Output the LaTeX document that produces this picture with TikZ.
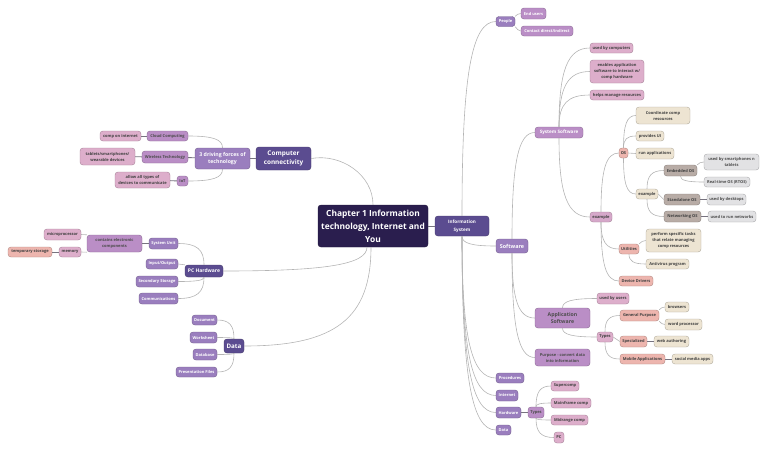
\documentclass[tikz,border=0pt]{standalone}
\usepackage{fontspec}
\usetikzlibrary{calc}
\setmainfont{Open Sans}
\tikzset{
	box/.style={draw=#1!75!black, fill=#1, rounded corners=3pt, line width=.4pt, inner sep=0pt, align=center, font=\fontsize{4}{6}\selectfont\bfseries},
	root/.style={box=rootc, text=white, font=\fontsize{8.4}{13}\selectfont\bfseries},
	main/.style={box=mainc, text=white},
	topic/.style={box=topicc, text=white},
	sub/.style={box=subc, text=white},
	mauve/.style={box=mauvec, text=black!70},
	pink/.style={box=pinkc, text=black!75},
	salmon/.style={box=salmonc, text=black!75},
	cream/.style={box=creamc, text=black!75},
	taupe/.style={box=taupec, text=black!75},
	pale/.style={box=palec, text=black!70},
	link/.style={draw=linkc, line width=.6pt},
	bar/.style={draw=barc, line width=.9pt},
	hook/.style={to path={.. controls ($(\tikztostart)!.72!(\tikztostart |- \tikztotarget)$) and ($(\tikztotarget)!.72!(\tikztostart |- \tikztotarget)$) .. (\tikztotarget)}},
}
\definecolor{rootc}{HTML}{2A1E4E}
\definecolor{mainc}{HTML}{5B4C90}
\definecolor{topicc}{HTML}{9A7EBE}
\definecolor{subc}{HTML}{BA8EC6}
\definecolor{mauvec}{HTML}{BA8EC6}
\definecolor{pinkc}{HTML}{DDAECB}
\definecolor{salmonc}{HTML}{EDB5AE}
\definecolor{creamc}{HTML}{EDE4D2}
\definecolor{taupec}{HTML}{B8ACA6}
\definecolor{palec}{HTML}{E2E2E4}
\definecolor{linkc}{HTML}{B4B4B4}
\definecolor{barc}{HTML}{77737F}
\begin{document}
\begin{tikzpicture}[x=1pt,y=-1pt]
	\useasboundingbox (0,0) rectangle (768,451);
	% centre
	\node[root, minimum width=110, minimum height=42] (chapter) at (373,226) {Chapter 1 Information\\technology, Internet and\\You};
	\node[main, minimum width=54, minimum height=20, font=\fontsize{4.6}{8}\selectfont\bfseries] (infosys) at (462,226) {Information\\System};
	\coordinate (rootpc) at (367,247);
	\coordinate (rootdata) at (371,247);
	% left side
	\node[main, minimum width=55, minimum height=23, font=\fontsize{6.4}{9.5}\selectfont\bfseries] (connect) at (283.5,158.5) {Computer\\connectivity};
	\node[topic, minimum width=55, minimum height=21, font=\fontsize{5.2}{7.5}\selectfont\bfseries] (forces) at (222.5,158.5) {3 driving forces of\\technology};
	\node[mauve, minimum width=41, minimum height=10] (cloud) at (167.5,136) {Cloud Computing};
	\node[pink, minimum width=41, minimum height=10] (oninternet) at (120.5,136) {comp on internet};
	\node[mauve, minimum width=46, minimum height=12] (wireless) at (165,157) {Wireless Technology};
	\node[pink, minimum width=55, minimum height=17] (tablets) at (107.5,156.5) {tablets/smartphones/\\wearable devices};
	\node[mauve, minimum width=11, minimum height=10] (iot) at (182.5,181) {IoT};
	\node[pink, minimum width=55, minimum height=16] (allow) at (142.5,180) {allow all types of\\devices to communicate};
	\node[main, minimum width=38, minimum height=12, font=\fontsize{5}{7}\selectfont\bfseries] (pchw) at (204,271) {PC Hardware};
	\node[topic, minimum width=29, minimum height=11] (sysunit) at (163.5,243.5) {System Unit};
	\node[mauve, minimum width=55, minimum height=17] (contains) at (114.5,243.5) {contains electronic\\components};
	\node[pink, minimum width=37, minimum height=11] (micro) at (62.5,234.5) {microprocessor};
	\node[pink, minimum width=22, minimum height=10] (memory) at (70,252) {memory};
	\node[salmon, minimum width=44, minimum height=10] (temp) at (30,252) {temporary storage};
	\node[topic, minimum width=32, minimum height=10] (inout) at (162,264) {Input/Output};
	\node[topic, minimum width=42, minimum height=11] (second) at (157,281.5) {Secondary Storage};
	\node[topic, minimum width=39, minimum height=11] (comms) at (158.5,298.5) {Communications};
	\node[main, minimum width=20, minimum height=14, font=\fontsize{6.2}{8}\selectfont\bfseries] (data) at (234,346) {Data};
	\node[topic, minimum width=25, minimum height=10] (document) at (204.5,320) {Document};
	\node[topic, minimum width=27, minimum height=11] (worksheet) at (203.5,337.5) {Worksheet};
	\node[topic, minimum width=24, minimum height=11] (database) at (205,354.5) {Database};
	\node[topic, minimum width=41, minimum height=10] (present) at (196.5,372) {Presentation Files};
	% right side, first level
	\node[topic, minimum width=19, minimum height=10] (people) at (505.5,21.5) {People};
	\node[mauve, text=white, minimum width=25, minimum height=11] (endusers) at (533.5,13.5) {End users};
	\node[mauve, text=white, minimum width=52, minimum height=10] (contact) at (547,31) {Contact direct/indirect};
	\node[topic, minimum width=32, minimum height=14, font=\fontsize{5.4}{7}\selectfont\bfseries] (software) at (512,246) {Software};
	\node[topic, minimum width=28, minimum height=10] (procedures) at (510,378) {Procedures};
	\node[topic, minimum width=22, minimum height=11] (internet) at (507,395.5) {Internet};
	\node[topic, minimum width=25, minimum height=11] (hardware) at (508.5,412.5) {Hardware};
	\node[topic, minimum width=15, minimum height=10] (datar) at (503.5,430) {Data};
	% system software
	\node[sub, minimum width=48, minimum height=11, font=\fontsize{4.6}{6}\selectfont\bfseries] (syssoft) at (559,132.5) {System Software};
	\node[pink, minimum width=43, minimum height=10] (usedcomp) at (611.5,48) {used by computers};
	\node[pink, minimum width=54, minimum height=23] (enables) at (617,71.5) {enables application\\software to interact w/\\comp hardware};
	\node[pink, minimum width=54, minimum height=10] (helps) at (617,95) {helps manage resources};
	\node[salmon, minimum width=9, minimum height=10] (os) at (623.5,153) {OS};
	\node[cream, minimum width=54, minimum height=17] (coord) at (663,115.5) {Coordinate comp\\resources};
	\node[cream, minimum width=28, minimum height=10] (provides) at (650,136) {provides UI};
	\node[cream, minimum width=38, minimum height=11] (runapps) at (655,153.5) {run applications};
	\node[cream, minimum width=22, minimum height=10] (exinner) at (647,194) {example};
	\node[taupe, minimum width=33, minimum height=11] (embedded) at (680.5,170.5) {Embedded OS};
	\node[pale, minimum width=55, minimum height=16] (smart) at (731.5,162) {used by smartphones n\\tablets};
	\node[pale, minimum width=46, minimum height=10] (rtos) at (727,182) {Real-time OS (RTOS)};
	\node[taupe, minimum width=36, minimum height=11] (standalone) at (682,199.5) {Standalone OS};
	\node[pale, minimum width=39, minimum height=11] (desktops) at (726.5,199.5) {used by desktops};
	\node[taupe, minimum width=37, minimum height=11] (network) at (682.5,216.5) {Networking OS};
	\node[pale, minimum width=48, minimum height=11] (runnet) at (732,216.5) {used to run networks};
	\node[pink, fill=pinkc!80!mauvec, minimum width=22, minimum height=10] (exouter) at (601,217) {example};
	\node[salmon, minimum width=20, minimum height=10] (utilities) at (629,249) {Utilities};
	\node[cream, minimum width=55, minimum height=23] (perform) at (673.5,240.5) {perform specific tasks\\that relate managing\\comp resources};
	\node[cream, minimum width=43, minimum height=10] (antivirus) at (667.5,264) {Antivirus program};
	\node[salmon, minimum width=34, minimum height=10] (drivers) at (636,281) {Device Drivers};
	% application software
	\node[mauve, minimum width=55, minimum height=20, font=\fontsize{5.2}{7}\selectfont\bfseries] (appsoft) at (562.5,318) {Application\\Software};
	\node[pink, minimum width=32, minimum height=11] (usedusers) at (613,298.5) {used by users};
	\node[pink, minimum width=16, minimum height=10] (types) at (605,337) {Types};
	\node[salmon, minimum width=39, minimum height=11] (general) at (639.5,315.5) {General Purpose};
	\node[cream, minimum width=24, minimum height=10] (browsers) at (677,307) {browsers};
	\node[cream, minimum width=37, minimum height=11] (wordproc) at (683.5,324.5) {word processor};
	\node[salmon, minimum width=27, minimum height=11] (special) at (633.5,341.5) {Specialized};
	\node[cream, minimum width=35, minimum height=11] (webauth) at (671.5,341.5) {web authoring};
	\node[salmon, minimum width=45, minimum height=10] (mobile) at (642.5,359) {Mobile Applications};
	\node[cream, minimum width=41, minimum height=10] (social) at (692.5,359) {social media apps};
	\node[mauve, minimum width=55, minimum height=17] (purpose) at (562.5,357.5) {Purpose - convert data\\into information};
	% hardware types
	\node[mauve, minimum width=16, minimum height=11] (typeshw) at (536,412.5) {Types};
	\node[pink, minimum width=28, minimum height=10] (super) at (565,386) {Supercomp};
	\node[pink, minimum width=40, minimum height=10] (mainframe) at (571,403) {Mainframe comp};
	\node[pink, minimum width=37, minimum height=10] (midrange) at (569.5,420) {Midrange comp};
	\node[pink, minimum width=10, minimum height=11] (pc) at (559,437.5) {PC};
	% thick links
	\draw[bar] (chapter) -- (infosys);
	\draw[bar] (connect) -- (forces);
	\draw[bar] (wireless) -- (forces);
	\draw[bar] (cloud) -- (oninternet);
	\draw[bar] (wireless) -- (tablets);
	\draw[bar] (iot) -- (allow);
	\draw[bar] (sysunit) -- (contains);
	\draw[bar] (memory) -- (temp);
	\draw[bar] (standalone) -- (desktops);
	\draw[bar] (network) -- (runnet);
	\draw[bar] (special) -- (webauth);
	\draw[bar] (mobile) -- (social);
	\draw[bar] (hardware) -- (typeshw);
	% curved links, left
	\draw[link] (connect.east) to[out=10,in=90] (chapter.north);
	\draw[link] (rootpc) to[hook] (pchw.east);
	\draw[link] (rootdata) to[hook] (data.east);
	\draw[link] (forces.north) to[hook] (cloud.east);
	\draw[link] (forces.south) to[hook] (iot.east);
	\draw[link] (contains.north west) -- (micro.east);
	\draw[link] (contains.south west) -- (memory.east);
	\draw[link] (pchw.north) to[hook] (sysunit.east);
	\draw[link] (inout.east) -- (pchw.north west);
	\draw[link] (pchw.south) to[hook] (second.east);
	\draw[link] (pchw.south) to[hook] (comms.east);
	\draw[link] (data.north) to[hook] (document.east);
	\draw[link] (data.north) to[hook] (worksheet.east);
	\draw[link] (data.south) to[hook] (database.east);
	\draw[link] (data.south) to[hook] (present.east);
	% curved links, right
	\draw[link] (infosys.north) to[hook] (people.west);
	\draw[link] (infosys.south) to[hook] (software.west);
	\draw[link] (infosys.south) to[hook] (procedures.west);
	\draw[link] (infosys.south) to[hook] (internet.west);
	\draw[link] (infosys.south) to[hook] (hardware.west);
	\draw[link] (infosys.south) to[hook] (datar.west);
	\draw[link] (people.north east) to[out=45,in=180] (endusers.west);
	\draw[link] (people.south east) to[out=-45,in=180] (contact.west);
	\draw[link] (software.north) to[hook] (syssoft.west);
	\draw[link] (software.south) to[hook] (appsoft.west);
	\draw[link] (software.south) to[hook] (purpose.west);
	\draw[link] (syssoft.north) to[hook] (usedcomp.west);
	\draw[link] (syssoft.north) to[hook] (enables.west);
	\draw[link] (syssoft.north) to[hook] (helps.west);
	\draw[link] (syssoft.south) to[hook] (exouter.west);
	\draw[link] (os.north) to[hook] (coord.west);
	\draw[link] (os.north) to[hook] (provides.west);
	\draw[link] (os.east) -- (runapps.west);
	\draw[link] (os.south) to[hook] (exinner.west);
	\draw[link] (exouter.north) to[hook] (os.west);
	\draw[link] (exouter.south) to[hook] (utilities.west);
	\draw[link] (exouter.south) to[hook] (drivers.west);
	\draw[link] (exinner.north) to[hook] (embedded.west);
	\draw[link] (exinner.east) -- (standalone.west);
	\draw[link] (exinner.south) to[hook] (network.west);
	\draw[link] (embedded.north east) to[out=45,in=180] (smart.west);
	\draw[link] (embedded.south) to[hook] (rtos.west);
	\draw[link] (utilities.north east) to[out=45,in=180] (perform.west);
	\draw[link] (utilities.south) to[hook] (antivirus.west);
	\draw[link] (appsoft.north) to[hook] (usedusers.west);
	\draw[link] (appsoft.south) to[hook] (types.west);
	\draw[link] (types.north) to[hook] (general.west);
	\draw[link] (types.east) -- (special.west);
	\draw[link] (types.south) to[hook] (mobile.west);
	\draw[link] (general.north east) to[out=45,in=180] (browsers.west);
	\draw[link] (general.south east) to[out=-45,in=180] (wordproc.west);
	\draw[link] (typeshw.north) to[hook] (super.west);
	\draw[link] (typeshw.north) to[hook] (mainframe.west);
	\draw[link] (typeshw.south) to[hook] (midrange.west);
	\draw[link] (typeshw.south) to[hook] (pc.west);
\end{tikzpicture}
\end{document}
